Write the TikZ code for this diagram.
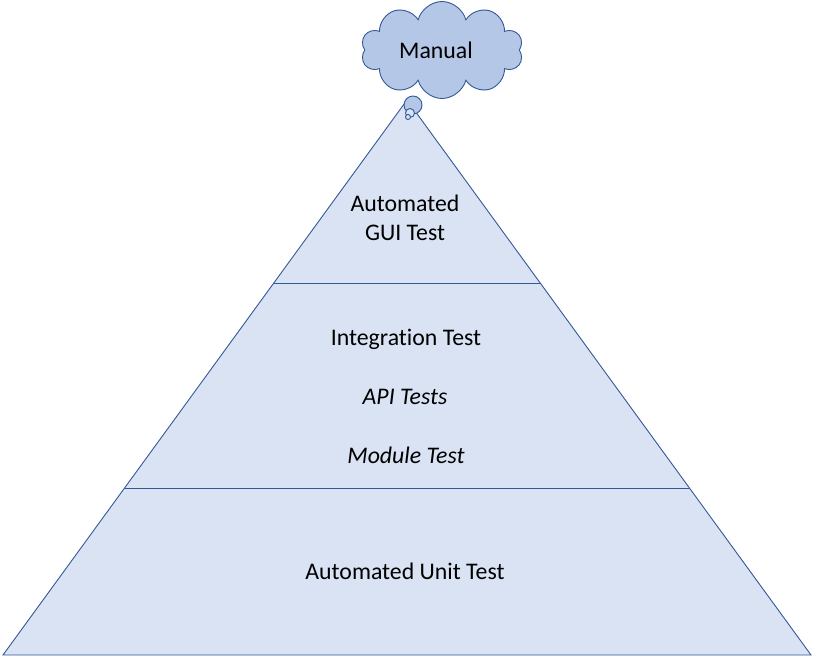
\documentclass[tikz,border=0pt]{standalone}
\usepackage{fontspec}
\setmainfont{Carlito}[Ligatures={NoCommon,NoRare}]
\usepackage{tikz}
\usetikzlibrary{calc,shapes.symbols,positioning}
\definecolor{pyrFill}{RGB}{218,227,243}
\definecolor{pyrLine}{RGB}{52,88,152}
\definecolor{cloudFill}{RGB}{180,199,231}

\begin{document}
\begin{tikzpicture}[
  x=1pt,
  y=-1pt,
  font=\fontsize{23.8}{29}\selectfont,
  edge/.style={draw=pyrLine, line width=0.9pt},
  bubble/.style={edge, fill=cloudFill},
  label/.style={align=center, inner sep=1pt, text=black}
]
\useasboundingbox (0,0) rectangle (813,656);

% pyramid
\coordinate (apex) at (407,100);
\coordinate (bl) at (3,655);
\coordinate (br) at (811,655);
\filldraw[edge, fill=pyrFill, line join=miter] (apex) -- (br) -- (bl) -- cycle;

\coordinate (l1) at ($(apex)!0.3297!(bl)$);
\coordinate (r1) at ($(apex)!0.3297!(br)$);
\coordinate (l2) at ($(apex)!0.6991!(bl)$);
\coordinate (r2) at ($(apex)!0.6991!(br)$);
\draw[edge] (l1) -- (r1);
\draw[edge] (l2) -- (r2);

% thought cloud
\node[bubble, cloud, cloud puffs=10, cloud ignores aspect, minimum width=162pt, minimum height=97pt, inner sep=0pt, label] (manual) at (442,50) {\hspace*{-12pt}Manual};
\node[bubble, circle, minimum size=18pt, inner sep=0pt] (puff1) at (413,105) {};
\node[edge, fill=pyrFill, circle, minimum size=9pt, inner sep=0pt] (puff2) at (410,113) {};
\node[edge, fill=pyrFill, circle, minimum size=5pt, inner sep=0pt] (puff3) at (408,117) {};

% levels
\node[label] (gui) at (405,218) {Automated\\GUI Test};
\node[label] (integ) at (406,339) {Integration Test};
\node[label, font=\fontsize{23.8}{29}\selectfont\itshape] (api) at (405,397) {API Tests};
\node[label, font=\fontsize{23.8}{29}\selectfont\itshape] (module) at (406,455) {Module Test};
\node[label] (unit) at (405,571) {Automated Unit Test};
\end{tikzpicture}
\end{document}
